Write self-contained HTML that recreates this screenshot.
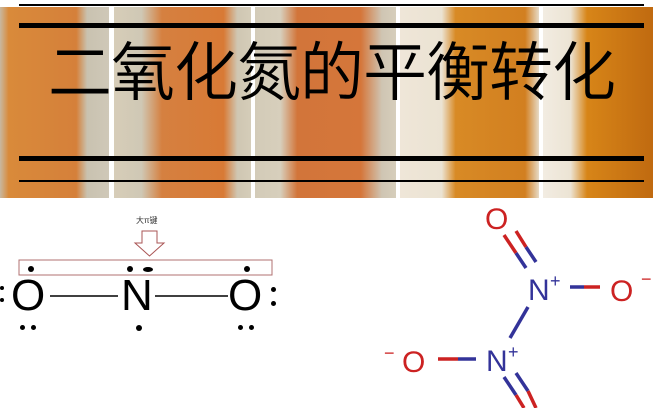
<!DOCTYPE html>
<html><head><meta charset="utf-8"><style>
body{margin:0;width:653px;height:408px;background:#fff;position:relative;overflow:hidden;font-family:"Liberation Sans","Noto Sans CJK SC",sans-serif}
.s{position:absolute;top:7px;height:191px}
.l{position:absolute;background:#000;left:19px;width:625px}
.t{position:absolute;left:48px;top:28px;font-size:64px;line-height:80px;color:#000;letter-spacing:-1px;font-family:"Noto Sans CJK SC",sans-serif;font-weight:350}
.a{position:absolute;font-size:44px;line-height:44px}
.d{position:absolute;width:6px;height:6px;border-radius:50%;background:#000}
</style></head><body>
<div class="s" style="left:0;width:109px;background:linear-gradient(90deg,#c8b8a0,#d98a3a 8%,#d5803a 70%,#c9c2b0 80%,#cfc8b8)"></div>
<div class="s" style="left:114px;width:137px;background:linear-gradient(90deg,#d7cdb8,#cfc8b5 20%,#d58040 35%,#d87a35 80%,#cfc6b2 90%,#d5cdb9)"></div>
<div class="s" style="left:255px;width:141px;background:linear-gradient(90deg,#d3cbb8,#d7cfbc 18%,#d2753a 30%,#d5763a 75%,#cfc5b3 90%,#d6cebb)"></div>
<div class="s" style="left:400px;width:139px;background:linear-gradient(90deg,#efe6d8,#ebe3d3 30%,#d88a25 40%,#d27f20 90%,#e6dac6)"></div>
<div class="s" style="left:543px;width:110px;background:linear-gradient(90deg,#f2ece2,#ece4d4 25%,#d78518 40%,#c06a10 100%)"></div>
<div class="l" style="top:4px;height:2px"></div>
<div class="l" style="top:23px;height:5px"></div>
<div class="l" style="top:156px;height:5px"></div>
<div class="l" style="top:180px;height:2px"></div>
<div class="t">二氧化氮的平衡转化</div>

<div style="position:absolute;left:136px;top:215px;font-size:8px;color:#333">大π键</div>
<svg style="position:absolute;left:0;top:200px" width="330" height="208">
<path d="M142 31 H157 V43 H164 L149.5 56 L135 43 H142 Z" fill="#fff" stroke="#a55" stroke-width="1"/>
<rect x="19" y="60" width="253" height="15" fill="none" stroke="#b07070" stroke-width="1"/>
<line x1="50" y1="96" x2="118" y2="96" stroke="#000" stroke-width="1.5"/>
<line x1="155" y1="96" x2="228" y2="96" stroke="#000" stroke-width="1.5"/>
</svg>
<div class="a" style="left:11px;top:274px">O</div>
<div class="a" style="left:121px;top:274px">N</div>
<div class="a" style="left:228px;top:274px">O</div>
<div class="d" style="left:28px;top:266px"></div>
<div class="d" style="left:127px;top:266px"></div>
<div class="d" style="left:143px;top:267px;width:10px;height:5px"></div>
<div class="d" style="left:244px;top:266px"></div>
<div class="d" style="left:0;top:286px;width:4px;height:4px"></div>
<div class="d" style="left:0;top:298px;width:4px;height:4px"></div>
<div class="d" style="left:271px;top:287px;width:5px;height:5px"></div>
<div class="d" style="left:271px;top:301px;width:5px;height:5px"></div>
<div class="d" style="left:20px;top:325px;width:5px;height:5px"></div>
<div class="d" style="left:31px;top:325px;width:5px;height:5px"></div>
<div class="d" style="left:136px;top:325px"></div>
<div class="d" style="left:238px;top:325px;width:5px;height:5px"></div>
<div class="d" style="left:249px;top:325px;width:5px;height:5px"></div>

<svg style="position:absolute;left:330px;top:195px" width="323" height="213" font-family="Liberation Sans,sans-serif">
<g stroke-width="3.5">
<line x1="174" y1="40" x2="186" y2="58" stroke="#c22"/><line x1="186" y1="58" x2="196" y2="73" stroke="#339"/>
<line x1="186" y1="36" x2="196" y2="52" stroke="#c22"/><line x1="196" y1="52" x2="206" y2="67" stroke="#339"/>
<line x1="240" y1="92" x2="254" y2="92" stroke="#339"/><line x1="254" y1="92" x2="270" y2="92" stroke="#c22"/>
<line x1="198" y1="112" x2="180" y2="143" stroke="#339"/>
<line x1="108" y1="164" x2="128" y2="164" stroke="#c22"/><line x1="128" y1="164" x2="146" y2="164" stroke="#339"/>
<line x1="174" y1="182" x2="186" y2="200" stroke="#339"/><line x1="186" y1="200" x2="194" y2="213" stroke="#c22"/>
<line x1="186" y1="178" x2="198" y2="196" stroke="#339"/><line x1="198" y1="196" x2="206" y2="213" stroke="#c22"/>
</g>
<g font-size="30">
<text x="155" y="34" fill="#c22">O</text>
<text x="198" y="105" fill="#339">N</text><text x="220" y="92" font-size="18" fill="#339">+</text>
<text x="280" y="106" fill="#c22">O</text><text x="311" y="90" font-size="18" fill="#c22">−</text>
<text x="156" y="176" fill="#339">N</text><text x="178" y="163" font-size="18" fill="#339">+</text>
<text x="72" y="177" fill="#c22">O</text><text x="54" y="164" font-size="18" fill="#c22">−</text>
</g>
</svg>
</body></html>
